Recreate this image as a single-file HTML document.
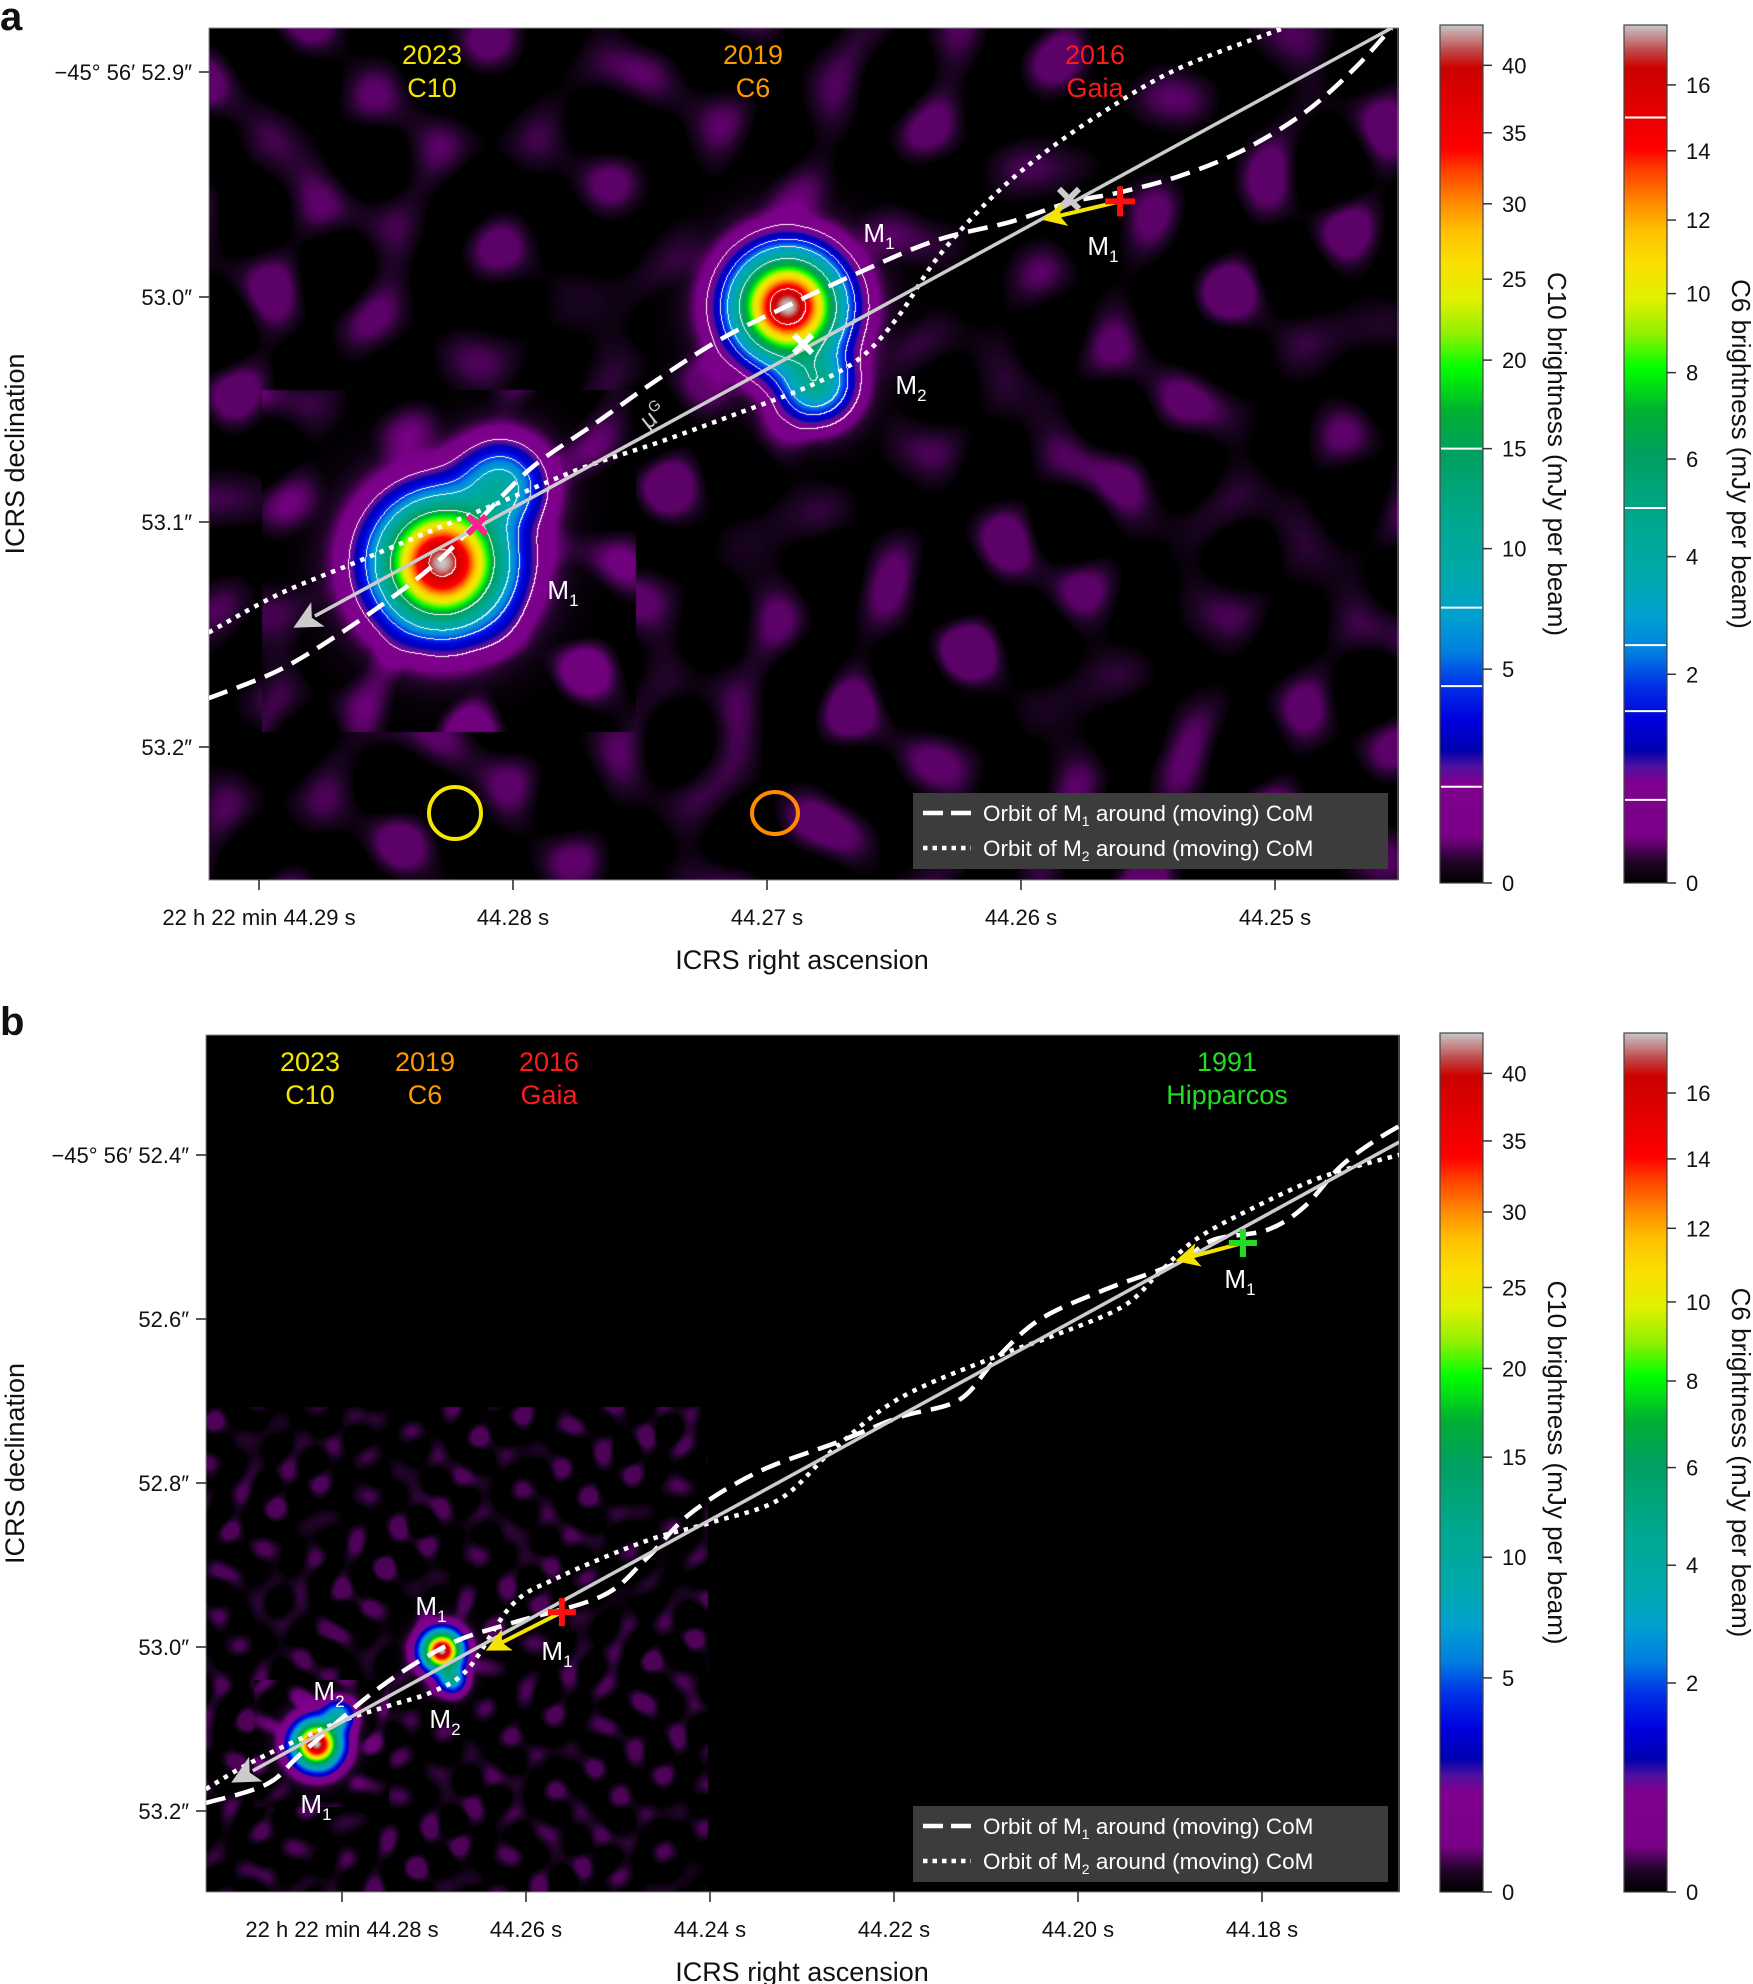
<!DOCTYPE html>
<html><head><meta charset="utf-8">
<style>
html,body{margin:0;padding:0;background:#fff;}
#wrap{position:relative;width:1753px;height:1984px;overflow:hidden;font-family:"Liberation Sans",sans-serif;}
canvas{position:absolute;}
svg{position:absolute;left:0;top:0;}
</style></head>
<body>
<div id="wrap">
<canvas id="cA" style="left:209px;top:28px" width="1190" height="852"></canvas>
<canvas id="cB" style="left:206px;top:1035px" width="1194" height="857"></canvas>
<svg id="ov" width="1753" height="1984" xmlns="http://www.w3.org/2000/svg"></svg>
</div>
<script>
// ---------- data ----------
const c6Ra=[44.2692,44.2681], c6Dec=[53.004,53.038], c6Peak=[17.9,4.4], c6Sig=[0.0135,0.0095];
const c10Ra=[44.2828,44.2805], c10Dec=[53.118,53.084], c10Peak=[43.1,9.0], c10Sig=[0.016,0.011];
const c10Max=43.1, c6Max=17.9, cGamma=0.645;
const c10Ticks=[0,5,10,15,20,25,30,35,40];
const c6Ticks=[0,2,4,6,8,10,12,14,16];
const c10Levels=[1.45,4.4,7.4,15,40];
const c6Levels=[0.48,1.48,2.45,4.96,15];
const aXTicks=[44.29,44.28,44.27,44.26,44.25];
const aXLabels=["22 h 22 min 44.29 s","44.28 s","44.27 s","44.26 s","44.25 s"];
const aYTicks=[52.9,53.0,53.1,53.2];
const aYLabels=["\u221245\u00b0 56\u2032 52.9\u2033","53.0\u2033","53.1\u2033","53.2\u2033"];
const bXTicks=[44.28,44.26,44.24,44.22,44.20,44.18];
const bXLabels=["22 h 22 min 44.28 s","44.26 s","44.24 s","44.22 s","44.20 s","44.18 s"];
const bYTicks=[52.4,52.6,52.8,53.0,53.2];
const bYLabels=["\u221245\u00b0 56\u2032 52.4\u2033","52.6\u2033","52.8\u2033","53.0\u2033","53.2\u2033"];
// orbits panel a
const aDashRa=[44.29198,44.28924,44.28675,44.28426,44.28276,44.28127,44.27928,44.27678,44.2743,44.27181,44.26922,44.26633,44.26334,44.26035,44.25811,44.25612,44.25388,44.25139,44.2489,44.24691,44.24541];
const aDashDec=[53.1783,53.1660,53.1491,53.1294,53.1154,53.0985,53.0760,53.0563,53.0366,53.0187,53.0041,52.9889,52.9748,52.9664,52.9580,52.9535,52.9467,52.9355,52.9186,52.8989,52.8804];
const aDotRa=[44.29198,44.28924,44.28625,44.28326,44.28027,44.27728,44.2743,44.27131,44.26832,44.26633,44.26483,44.26334,44.26135,44.25936,44.25687,44.25388,44.24964];
const aDotDec=[53.1491,53.1322,53.1182,53.1041,53.0901,53.0760,53.0647,53.0524,53.0395,53.0271,53.0086,52.9833,52.9580,52.9383,52.9186,52.8989,52.8804];
const aComRa=[44.2878,44.2454], aComDec=[53.1418,52.8804];
// orbits panel b
const bDashRa=[44.29478,44.28815,44.28424,44.27598,44.26826,44.26152,44.25174,44.24696,44.24207,44.23478,44.22609,44.21935,44.21293,44.20902,44.20424,44.19717,44.18924,44.18533,44.17946,44.17543,44.17152,44.16761,44.16391];
const bDashDec=[53.1902,53.1671,53.1280,53.0500,52.9963,52.9707,52.9378,52.8927,52.8366,52.7866,52.7500,52.7195,52.6988,52.6500,52.6012,52.5646,52.5317,52.5037,52.4915,52.4634,52.4146,52.3817,52.3573];
const bDotRa=[44.29478,44.28957,44.28087,44.2750,44.27022,44.2663,44.26152,44.25663,44.24696,44.23967,44.23239,44.22652,44.21935,44.20902,44.20304,44.19522,44.1912,44.18728,44.18141,44.17348,44.16391];
const bDotDec=[53.1732,53.1390,53.0939,53.0720,53.0549,53.0268,52.9488,52.9159,52.8707,52.8476,52.8195,52.7585,52.6963,52.6463,52.6220,52.5854,52.5439,52.5037,52.4671,52.4268,52.3963];
const bComRa=[44.2897,44.1640], bComDec=[53.151,52.3775];
// markers
const gaiaRa=44.2561, gaiaDec=52.9575;
const hipRa=44.18207, hipDec=52.5073;
const aGaiaArrowTip=[44.25886,52.9649];
const bGaiaArrowTip=[44.26359,53.0];
const bHipArrowTip=[44.18859,52.5268];
const aGrayX=[44.25811,52.9564], aWhiteX=[44.26858,53.0209], aPinkX=[44.28142,53.1013];

// ---------- axes ----------
const A={l:209,t:28,r:1398,b:880};
const B={l:206,t:1035,r:1399,b:1892};
const xA=ra=>259+(44.29-ra)*25400, yA=d=>72+(d-52.9)*2250;
const xB=ra=>342+(44.28-ra)*9200, yB=d=>1155+(d-52.4)*820;
const cbTop=[25,1033], cbBot=[883,1892];
const fracOf=(v,max)=>Math.pow(Math.max(0,v)/max,cGamma);

// ---------- colormap ----------
const cmap=[[0,'#000000'],[0.025,'#200428'],[0.054,'#7a0088'],[0.117,'#80008f'],[0.135,'#5010a0'],[0.155,'#0000b0'],[0.19,'#0000dd'],[0.23,'#0030e8'],[0.27,'#0080e0'],[0.31,'#00a0d0'],[0.35,'#00a8b0'],[0.42,'#00a890'],[0.5,'#00a060'],[0.55,'#00b030'],[0.6,'#00ff00'],[0.64,'#90f000'],[0.68,'#e0f000'],[0.72,'#f8e000'],[0.76,'#ffc000'],[0.79,'#ff9000'],[0.83,'#ff4000'],[0.855,'#ff0000'],[0.913,'#dd0000'],[0.95,'#cc0000'],[0.97,'#c04848'],[1,'#c8c8c8']];
function hex(h){return [parseInt(h.substr(1,2),16),parseInt(h.substr(3,2),16),parseInt(h.substr(5,2),16)];}
const LUT=[];
for(let i=0;i<=2047;i++){const f=i/2047;let j=0;while(j<cmap.length-2&&cmap[j+1][0]<f)j++;
 const a=cmap[j],b=cmap[j+1];const t=Math.min(1,Math.max(0,(f-a[0])/(b[0]-a[0])));const ca=hex(a[1]),cb=hex(b[1]);
 LUT.push([ca[0]+(cb[0]-ca[0])*t,ca[1]+(cb[1]-ca[1])*t,ca[2]+(cb[2]-ca[2])*t]);}
// background texture (not data)
const NW=[[120,40,0.3],[-60,110,1.7],[90,-95,2.9],[30,-140,4.1],[150,70,5.3],[-130,-20,0.9],[70,130,3.3],[-100,80,2.2]];
function tex(X,Y){let v=0;for(const w of NW)v+=Math.sin(w[0]*X+w[1]*Y+w[2]);v=v/3.5;return v>0?Math.pow(Math.min(v,1),1.3):0;}

function gsum(px,py,ras,decs,peaks,sigs,xf,yf,scale){let v=0;for(let i=0;i<ras.length;i++){const dx=px-xf(ras[i]),dy=py-yf(decs[i]);const s=sigs[i]*scale;v+=peaks[i]*Math.exp(-(dx*dx+dy*dy)/(2*s*s));}return v;}
function lvl(v,L){let k=0;while(k<L.length&&v>=L[k])k++;return k;}

function renderPanel(canvasId,R,xf,yf,scale,box10,box6,contours,n6,n10){
 const cv=document.getElementById(canvasId);const W=cv.width,H=cv.height;const ctx=cv.getContext('2d');
 const img=ctx.createImageData(W,H);const d=img.data;const L=new Int8Array(W*H);
 for(let j=0;j<H;j++){for(let i=0;i<W;i++){
  const X=R.l+i,Y=R.t+j;let f=0,k=-1;
  const in10=X>=box10[0]&&X<=box10[2]&&Y>=box10[1]&&Y<=box10[3];
  const in6=X>=box6[0]&&X<=box6[2]&&Y>=box6[1]&&Y<=box6[3];
  if(in10){const v=gsum(X,Y,c10Ra,c10Dec,c10Peak,c10Sig,xf,yf,scale)+n10*tex(X/scale+3.1,Y/scale+1.7);f=fracOf(v,c10Max);k=lvl(v,c10Levels);}
  else if(in6){const v=gsum(X,Y,c6Ra,c6Dec,c6Peak,c6Sig,xf,yf,scale)+n6*tex(X/scale,Y/scale);f=fracOf(v,c6Max);k=lvl(v,c6Levels)+10;}
  const c=LUT[Math.min(2047,Math.round(f*2047))];const p=(j*W+i)*4;d[p]=c[0];d[p+1]=c[1];d[p+2]=c[2];d[p+3]=255;L[j*W+i]=k;}}
 if(contours){for(let j=1;j<H-1;j++)for(let i=1;i<W-1;i++){const k=L[j*W+i];if(k<0||k===0||k===10)continue;
  if(L[j*W+i+1]<k||L[j*W+i-1]<k||L[(j+1)*W+i]<k||L[(j-1)*W+i]<k||L[(j+1)*W+i+1]<k){const p=(j*W+i)*4;d[p]=d[p+1]=d[p+2]=255;}}}
 ctx.putImageData(img,0,0);
}
renderPanel('cA',A,xA,yA,2250,[262,390,635,731],[A.l,A.t,A.r,A.b],true,0.14,0.42);
renderPanel('cB',B,xB,yB,820,[254,1680,388,1806],[206,1407,707,1892],false,0.12,0.4);

// ---------- SVG overlay ----------
const NS='http://www.w3.org/2000/svg';const ov=document.getElementById('ov');
function mk(tag,at,parent){const e=document.createElementNS(NS,tag);for(const k in at)e.setAttribute(k,at[k]);(parent||ov).appendChild(e);return e;}
const defs=mk('defs',{});
const lg=mk('linearGradient',{id:'cmapG',x1:0,y1:1,x2:0,y2:0},defs);
cmap.forEach(s=>mk('stop',{offset:s[0],'stop-color':s[1]},lg));
mk('rect',{x:A.l,y:A.t,width:A.r-A.l,height:A.b-A.t},mk('clipPath',{id:'clipA'},defs));
mk('rect',{x:B.l,y:B.t,width:B.r-B.l,height:B.b-B.t},mk('clipPath',{id:'clipB'},defs));
const mG=mk('marker',{id:'arG',markerWidth:8,markerHeight:8,refX:1,refY:4,orient:'auto-start-reverse',markerUnits:'strokeWidth'},defs);
mk('path',{d:'M0,0 L8,4 L0,8 L2,4 Z',fill:'#cccccc'},mG);
const mY=mk('marker',{id:'arY',markerWidth:6,markerHeight:6,refX:4,refY:3,orient:'auto',markerUnits:'strokeWidth'},defs);
mk('path',{d:'M0,0 L6,3 L0,6 L1.5,3 Z',fill:'#f5e400'},mY);

function txt(x,y,s,at,parent){const e=mk('text',Object.assign({x:x,y:y,'font-family':'Liberation Sans, sans-serif'},at),parent);e.textContent=s;return e;}
function smooth(pts){let d='M'+pts[0][0].toFixed(1)+','+pts[0][1].toFixed(1);
 for(let i=0;i<pts.length-1;i++){const p0=pts[Math.max(0,i-1)],p1=pts[i],p2=pts[i+1],p3=pts[Math.min(pts.length-1,i+2)];
  const c1=[p1[0]+(p2[0]-p0[0])/6,p1[1]+(p2[1]-p0[1])/6],c2=[p2[0]-(p3[0]-p1[0])/6,p2[1]-(p3[1]-p1[1])/6];
  d+=' C'+c1[0].toFixed(1)+','+c1[1].toFixed(1)+' '+c2[0].toFixed(1)+','+c2[1].toFixed(1)+' '+p2[0].toFixed(1)+','+p2[1].toFixed(1);}return d;}
function line(ras,decs,xf,yf){return ras.map((r,i)=>[xf(r),yf(decs[i])]);}
function lab(x,y,main,sub,g){const t=txt(x,y,main,{fill:'#fff','font-size':26,'text-anchor':'middle'},g);const ts=mk('tspan',{'font-size':17,dy:7},t);ts.textContent=sub;return t;}

function panel(P,xf,yf,key,xt,xl,yt,yl,dashRa,dashDec,dotRa,dotDec,comRa,comDec){
 const g=mk('g',{});
 mk('rect',{x:P.l,y:P.t,width:P.r-P.l,height:P.b-P.t,fill:'none',stroke:'#888','stroke-width':1},g);
 const gx=mk('g',{},g);
 xt.forEach((v,i)=>{const x=xf(v);mk('line',{x1:x,x2:x,y1:P.b,y2:P.b+10,stroke:'#222','stroke-width':1.5},gx);
   txt(x,P.b+45,xl[i],{'font-size':22,'text-anchor':'middle',fill:'#111'},gx);});
 const gy=mk('g',{},g);
 yt.forEach((v,i)=>{const y=yf(v);mk('line',{x1:P.l-10,x2:P.l,y1:y,y2:y,stroke:'#222','stroke-width':1.5},gy);
   txt(P.l-17,y+8,yl[i],{'font-size':22,'text-anchor':'end',fill:'#111'},gy);});
 const xtEl=txt(802,P.b+89,'ICRS right ascension',{'font-size':27,'text-anchor':'middle',fill:'#111'},g);
 
 const cy=(P.t+P.b)/2;
 const ytEl=txt(0,0,'ICRS declination',{'font-size':27,'text-anchor':'middle',fill:'#111',transform:'translate(24,'+cy+') rotate(-90)'},g);
 
 const cl=mk('g',{'clip-path':'url(#clip'+key.toUpperCase()+')'},g);
 const od=mk('path',{d:smooth(line(dashRa,dashDec,xf,yf)),fill:'none',stroke:'#fff','stroke-width':4.5,'stroke-dasharray':'20 10'},cl);
 
 const ot=mk('path',{d:smooth(line(dotRa,dotDec,xf,yf)),fill:'none',stroke:'#fff','stroke-width':4.5,'stroke-dasharray':'4.5 6'},cl);
 
 const cm=mk('line',{x1:xf(comRa[0]),y1:yf(comDec[0]),x2:xf(comRa[1]),y2:yf(comDec[1]),stroke:'#cccccc','stroke-width':3.5,'marker-start':'url(#arG)'},cl);
 
 return {g:g,cl:cl};
}
function cross(x,y,s,w,col,g,name){const e=mk('g',{},g);
 mk('line',{x1:x-s,x2:x+s,y1:y,y2:y,stroke:col,'stroke-width':w},e);mk('line',{x1:x,x2:x,y1:y-s,y2:y+s,stroke:col,'stroke-width':w},e);}
function xmark(x,y,s,w,col,g,name){const e=mk('g',{},g);
 mk('line',{x1:x-s,x2:x+s,y1:y-s,y2:y+s,stroke:col,'stroke-width':w},e);mk('line',{x1:x-s,x2:x+s,y1:y+s,y2:y-s,stroke:col,'stroke-width':w},e);}
function yarrow(r0,d0,r1,d1,xf,yf,g,name){const e=mk('line',{x1:xf(r0),y1:yf(d0),x2:xf(r1),y2:yf(d1),stroke:'#f5e400','stroke-width':4,'marker-end':'url(#arY)'},g);
 }
function legend(x,y,g){const e=mk('g',{},g);
 mk('rect',{x:x,y:y,width:475,height:76,fill:'#3c3c3c'},e);
 mk('line',{x1:x+10,x2:x+58,y1:y+20,y2:y+20,stroke:'#fff','stroke-width':4.5,'stroke-dasharray':'20 8'},e);
 mk('line',{x1:x+10,x2:x+58,y1:y+55,y2:y+55,stroke:'#fff','stroke-width':4.5,'stroke-dasharray':'4.5 5'},e);
 [['1',20],['2',55]].forEach(a=>{const t=txt(x+70,y+a[1]+8,'Orbit of M',{'font-size':22.5,fill:'#fff'},e);
  const s=mk('tspan',{'font-size':14,dy:5},t);s.textContent=a[0];const r=mk('tspan',{dy:-5},t);r.textContent=' around (moving) CoM';});}
function epoch(x,y,a,b,col,g,name){const e=mk('g',{},g);
 txt(x,y,a,{'font-size':27,'text-anchor':'middle',fill:col},e);txt(x,y+33,b,{'font-size':27,'text-anchor':'middle',fill:col},e);}

// Panel a
const pa=panel(A,xA,yA,'a',aXTicks,aXLabels,aYTicks,aYLabels,aDashRa,aDashDec,aDotRa,aDotDec,aComRa,aComDec);
xmark(xA(aGrayX[0]),yA(aGrayX[1]),10,6,'#cccccc',pa.g,'com-2016-marker');
yarrow(gaiaRa,gaiaDec,aGaiaArrowTip[0],aGaiaArrowTip[1],xA,yA,pa.g,'gaia-offset-arrow');
cross(xA(gaiaRa),yA(gaiaDec),15,6,'#ff1010',pa.g,'gaia-marker');
xmark(xA(aWhiteX[0]),yA(aWhiteX[1]),9,6,'#ffffff',pa.g,'com-2019-marker');
xmark(xA(aPinkX[0]),yA(aPinkX[1]),9,6,'#ff2090',pa.g,'com-2023-marker');
lab(879,242,'M','1',pa.g);lab(911,394,'M','2',pa.g);lab(1103,255,'M','1',pa.g);lab(563,599,'M','1',pa.g);
const mu=txt(0,0,'\u03bc',{'font-size':24,fill:'#ccc',transform:'translate(648,430) rotate(-38)'},pa.g);
const mus=mk('tspan',{'font-size':15,dy:-10},mu);mus.textContent='G';
epoch(432,64,'2023','C10','#f5e600',pa.g,'epoch-2023');epoch(753,64,'2019','C6','#ff9900',pa.g,'epoch-2019');epoch(1095,64,'2016','Gaia','#ff1a1a',pa.g,'epoch-2016');
mk('circle',{cx:455,cy:813,r:26,fill:'none',stroke:'#f5e600','stroke-width':4,},pa.g);
mk('ellipse',{cx:775,cy:813,rx:23,ry:21,fill:'none',stroke:'#ff8c00','stroke-width':4,},pa.g);
legend(913,793,pa.g);
txt(0,30,'a',{'font-size':40,'font-weight':'bold',fill:'#111'},pa.g);

// Panel b
const pb=panel(B,xB,yB,'b',bXTicks,bXLabels,bYTicks,bYLabels,bDashRa,bDashDec,bDotRa,bDotDec,bComRa,bComDec);
yarrow(gaiaRa,gaiaDec,bGaiaArrowTip[0],bGaiaArrowTip[1],xB,yB,pb.g,'gaia-offset-arrow-b');
cross(xB(gaiaRa),yB(gaiaDec),14,6,'#ff1010',pb.g,'gaia-marker-b');
yarrow(hipRa,hipDec,bHipArrowTip[0],bHipArrowTip[1],xB,yB,pb.g,'hipparcos-offset-arrow');
cross(xB(hipRa),yB(hipDec),14,6,'#22dd22',pb.g,'hipparcos-marker');
lab(431,1615,'M','1',pb.g);lab(445,1728,'M','2',pb.g);lab(557,1660,'M','1',pb.g);lab(329,1700,'M','2',pb.g);lab(316,1813,'M','1',pb.g);lab(1240,1288,'M','1',pb.g);
epoch(310,1071,'2023','C10','#f5e600',pb.g,'epoch-2023-b');epoch(425,1071,'2019','C6','#ff9900',pb.g,'epoch-2019-b');epoch(549,1071,'2016','Gaia','#ff1a1a',pb.g,'epoch-2016-b');epoch(1227,1071,'1991','Hipparcos','#22dd22',pb.g,'epoch-1991');
legend(913,1806,pb.g);
txt(0,1035,'b',{'font-size':40,'font-weight':'bold',fill:'#111'},pb.g);

// Colorbars
function colorbar(x,p,ticks,max,levels,title,name){
 const g=mk('g',{});
 const t=cbTop[p],b=cbBot[p],h=b-t;
 mk('rect',{x:x,y:t,width:43,height:h,fill:'url(#cmapG)',stroke:'#444','stroke-width':1.2},g);
 levels.forEach(v=>{const y=b-fracOf(v,max)*h;mk('line',{x1:x+1,x2:x+42,y1:y,y2:y,stroke:'#fff','stroke-width':2},g);});
 ticks.forEach(v=>{const y=b-fracOf(v,max)*h;mk('line',{x1:x+43,x2:x+52,y1:y,y2:y,stroke:'#333','stroke-width':1.5},g);
   txt(x+62,y+8,String(v),{'font-size':22,fill:'#111'},g);});
 txt(0,0,title,{'font-size':26,fill:'#111','text-anchor':'middle',transform:'translate('+(x+108)+','+((t+b)/2)+') rotate(90)'},g);
}
[0,1].forEach(p=>{colorbar(1440,p,c10Ticks,c10Max,p===0?c10Levels.slice(0,4):[],'C10 brightness (mJy per beam)','c10-colorbar-'+(p?'b':'a'));
 colorbar(1624,p,c6Ticks,c6Max,p===0?c6Levels:[],'C6 brightness (mJy per beam)','c6-colorbar-'+(p?'b':'a'));});
</script>
</body></html>
